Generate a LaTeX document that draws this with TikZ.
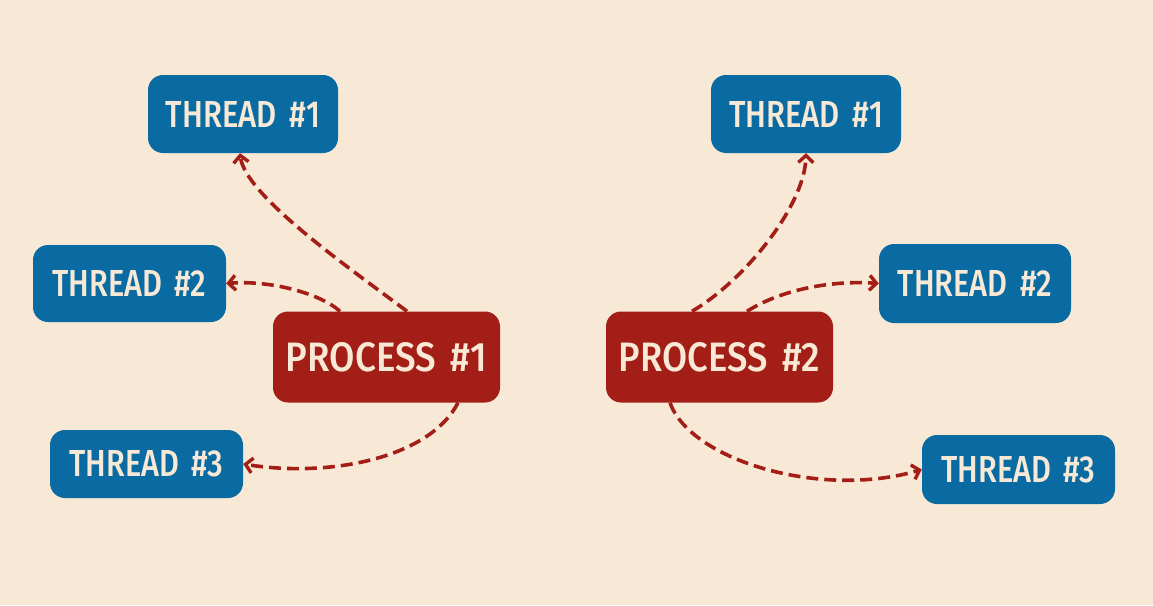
\documentclass[tikz,border=0pt]{standalone}
\usepackage{fontspec}
\setmainfont{Fira Sans}
\newfontfamily\lblfont{Fira Sans Medium}
\usetikzlibrary{arrows.meta}
\definecolor{bgc}{HTML}{F8E9D6}
\definecolor{blu}{HTML}{096BA2}
\definecolor{rd}{HTML}{A41E18}
\definecolor{txt}{HTML}{F8E9D6}
\newcommand{\thlbl}[2]{\resizebox{154pt}{26pt}{\lblfont #1\hspace{0.4em}#2}}
\newcommand{\prlbl}[2]{\resizebox{201pt}{29pt}{\lblfont #1\hspace{0.4em}#2}}
\tikzset{
  threadbox/.style={fill=blu, rounded corners=15pt, inner sep=0pt, text=txt, anchor=center},
  procbox/.style={fill=rd, rounded corners=15pt, inner sep=0pt, text=txt, anchor=center, minimum width=227pt, minimum height=91pt},
  link/.style={draw=rd, line width=3.6pt, dash pattern=on 12pt off 6pt, -{Straight Barb[length=7pt,width=15pt,line width=3.4pt]}}
}
\begin{document}
\begin{tikzpicture}[x=1pt,y=-1pt]
\useasboundingbox (0,0) rectangle (1153,605);
\fill[bgc] (0,0) rectangle (1153,605);
% left
\node[threadbox, minimum width=190pt, minimum height=78pt] (t1l) at (243,114) {\thlbl{THREAD}{\#1}};
\node[threadbox, minimum width=193pt, minimum height=77pt] (t2l) at (129.5,283.5) {\thlbl{THREAD}{\#2}};
\node[threadbox, minimum width=193pt, minimum height=68pt] (t3l) at (146.5,464) {\thlbl{THREAD}{\#3}};
\node[procbox] (p1) at (386.5,357) {\prlbl{PROCESS}{\#1}};
% right
\node[threadbox, minimum width=190pt, minimum height=78pt] (t1r) at (806,114) {\thlbl{THREAD}{\#1}};
\node[threadbox, minimum width=192pt, minimum height=79pt] (t2r) at (975,283.5) {\thlbl{THREAD}{\#2}};
\node[threadbox, minimum width=193pt, minimum height=69pt] (t3r) at (1018.5,469.5) {\thlbl{THREAD}{\#3}};
\node[procbox] (p2) at (719.5,357) {\prlbl{PROCESS}{\#2}};
% connectors left
\draw[link] ([xshift=20.5pt]p1.north) .. controls +(-60,-45) and +(5,42) .. ([xshift=-3pt]t1l.south);
\draw[link] ([xshift=-46.5pt]p1.north) .. controls +(-20,-18) and +(44,-3.5) .. (t2l.east);
\draw[link] ([xshift=71.5pt]p1.south) .. controls +(-28,55) and +(87,14) .. (t3l.east);
% connectors right
\draw[link] ([xshift=-27.5pt]p2.north) .. controls +(53,-31) and +(-1,52) .. (t1r.south);
\draw[link] ([xshift=27.5pt]p2.north) .. controls +(33,-21) and +(-49,-3.5) .. (t2r.west);
\draw[link] ([xshift=-49.5pt]p2.south) .. controls +(20,57) and +(-102,30) .. (t3r.west);
\end{tikzpicture}
\end{document}
